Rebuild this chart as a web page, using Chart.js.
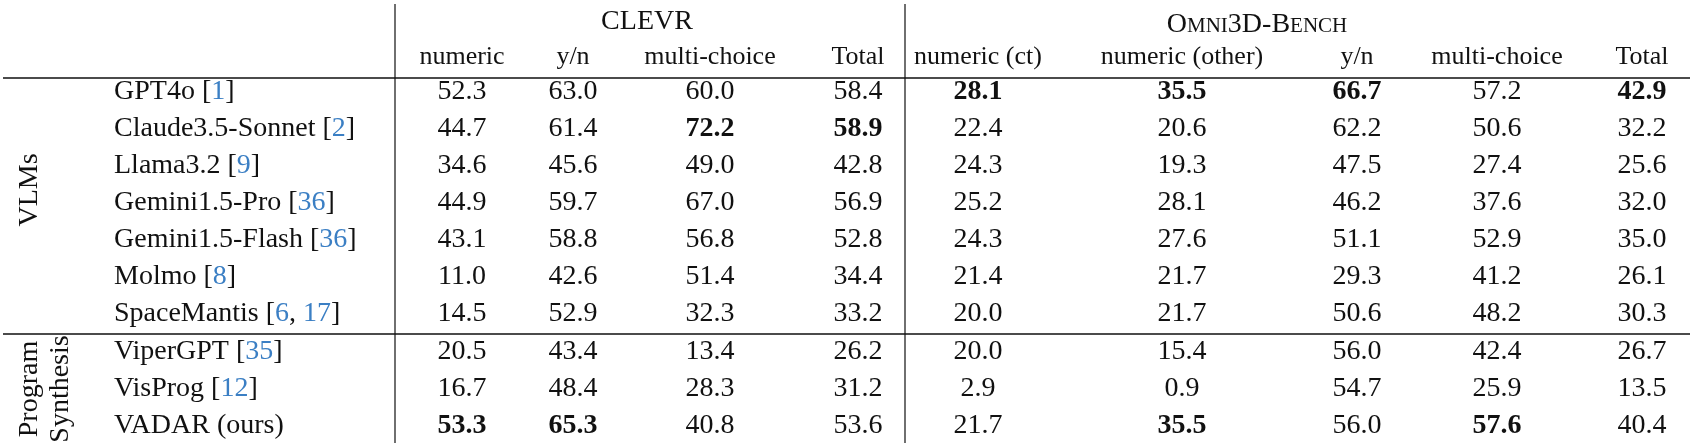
<!DOCTYPE html>
<html>
<head>
<meta charset="utf-8">
<script src="https://cdn.jsdelivr.net/npm/chart.js@4/dist/chart.umd.min.js"></script>
<style>
  html, body { margin: 0; padding: 0; background: #fff; }
</style>
</head>
<body>
<canvas id="table-canvas" width="1693" height="443"></canvas>
<script>
// table data
const models = ['GPT4o', 'Claude3.5-Sonnet', 'Llama3.2', 'Gemini1.5-Pro', 'Gemini1.5-Flash',
  'Molmo', 'SpaceMantis', 'ViperGPT', 'VisProg', 'VADAR (ours)'];
const cites = [['1'], ['2'], ['9'], ['36'], ['36'], ['8'], ['6', '17'], ['35'], ['12'], []];
const columns = ['numeric', 'y/n', 'multi-choice', 'Total',
  'numeric (ct)', 'numeric (other)', 'y/n', 'multi-choice', 'Total'];

const clevrNumeric = [52.3, 44.7, 34.6, 44.9, 43.1, 11.0, 14.5, 20.5, 16.7, 53.3];
const clevrYn = [63.0, 61.4, 45.6, 59.7, 58.8, 42.6, 52.9, 43.4, 48.4, 65.3];
const clevrMulti = [60.0, 72.2, 49.0, 67.0, 56.8, 51.4, 32.3, 13.4, 28.3, 40.8];
const clevrTotal = [58.4, 58.9, 42.8, 56.9, 52.8, 34.4, 33.2, 26.2, 31.2, 53.6];
const omniCount = [28.1, 22.4, 24.3, 25.2, 24.3, 21.4, 20.0, 20.0, 2.9, 21.7];
const omniOther = [35.5, 20.6, 19.3, 28.1, 27.6, 21.7, 21.7, 15.4, 0.9, 35.5];
const omniYn = [66.7, 62.2, 47.5, 46.2, 51.1, 29.3, 50.6, 56.0, 54.7, 56.0];
const omniMulti = [57.2, 50.6, 27.4, 37.6, 52.9, 41.2, 48.2, 42.4, 25.9, 57.6];
const omniTotal = [42.9, 32.2, 25.6, 32.0, 35.0, 26.1, 30.3, 26.7, 13.5, 40.4];

const series = [clevrNumeric, clevrYn, clevrMulti, clevrTotal,
  omniCount, omniOther, omniYn, omniMulti, omniTotal];

// layout (in scale units = pixels of the 1693x443 page)
const colX = [462, 573, 710, 858, 978, 1182, 1357, 1497, 1642];
const rowY = [92, 129, 166, 203, 240, 277, 314, 352, 389, 426];
const FONT = '"Liberation Serif", "DejaVu Serif", serif';
const CITE = '#3b7fc4';

const points = [];
series.forEach((col, j) => col.forEach((v, i) => points.push({ x: colX[j], y: rowY[i], v: v, c: j })));

const tablePlugin = {
  id: 'tableText',
  afterDatasetsDraw(chart) {
    const ctx = chart.ctx;
    const sx = chart.scales.x, sy = chart.scales.y;
    const X = v => sx.getPixelForValue(v), Y = v => sy.getPixelForValue(v);
    ctx.save();
    ctx.fillStyle = '#111';
    ctx.strokeStyle = '#111';

    // rules
    ctx.lineWidth = 1.6;
    ctx.beginPath();
    ctx.moveTo(X(3), Y(78)); ctx.lineTo(X(1690), Y(78));
    ctx.moveTo(X(3), Y(334)); ctx.lineTo(X(1690), Y(334));
    ctx.stroke();
    ctx.lineWidth = 1.2;
    ctx.beginPath();
    ctx.moveTo(X(395), Y(4)); ctx.lineTo(X(395), Y(443));
    ctx.moveTo(X(905), Y(4)); ctx.lineTo(X(905), Y(443));
    ctx.stroke();

    ctx.textBaseline = 'middle';
    ctx.textAlign = 'center';
    ctx.font = '28px ' + FONT;
    ctx.fillText('CLEVR', X(647), Y(22));

    // small caps title
    const parts = [['O', 28], ['MNI', 21], ['3D-B', 28], ['ENCH', 21]];
    let w = 0;
    parts.forEach(p => { ctx.font = p[1] + 'px ' + FONT; w += ctx.measureText(p[0]).width; });
    let px = X(1257) - w / 2;
    ctx.textAlign = 'left';
    ctx.textBaseline = 'alphabetic';
    parts.forEach(p => {
      ctx.font = p[1] + 'px ' + FONT;
      ctx.fillText(p[0], px, Y(32));
      px += ctx.measureText(p[0]).width;
    });

    ctx.textBaseline = 'middle';
    ctx.textAlign = 'center';
    ctx.font = '26px ' + FONT;
    columns.forEach((c, j) => ctx.fillText(c, X(colX[j]), Y(57)));

    // model names with citations
    ctx.font = '28px ' + FONT;
    ctx.textAlign = 'left';
    models.forEach((m, i) => {
      let x = X(114);
      const y = Y(rowY[i]);
      const seg = (t, col) => { ctx.fillStyle = col; ctx.fillText(t, x, y); x += ctx.measureText(t).width; };
      seg(m, '#111');
      if (cites[i].length) {
        seg(' [', '#111');
        cites[i].forEach((c, k) => { if (k) seg(', ', '#111'); seg(c, CITE); });
        seg(']', '#111');
      }
    });

    // values, best per column in bold
    ctx.textAlign = 'center';
    points.forEach(p => {
      const best = Math.max(...series[p.c]);
      ctx.fillStyle = '#111';
      ctx.font = (p.v === best ? 'bold ' : '') + '28px ' + FONT;
      ctx.fillText(p.v.toFixed(1), X(p.x), Y(p.y));
    });

    // group labels
    ctx.font = '28px ' + FONT;
    const rot = (t, x, y) => {
      ctx.save(); ctx.translate(X(x), Y(y)); ctx.rotate(-Math.PI / 2);
      ctx.fillText(t, 0, 0); ctx.restore();
    };
    rot('VLMs', 30, 190);
    rot('Program', 30, 389);
    rot('Synthesis', 61, 389);
    ctx.restore();
  }
};

new Chart(document.getElementById('table-canvas'), {
  type: 'scatter',
  data: { datasets: [{ data: points, pointRadius: 0, pointHoverRadius: 0 }] },
  options: {
    responsive: false,
    animation: false,
    layout: { padding: 0 },
    plugins: { legend: { display: false }, tooltip: { enabled: false } },
    scales: {
      x: { type: 'linear', min: 0, max: 1693, display: false },
      y: { type: 'linear', min: 0, max: 443, reverse: true, display: false }
    }
  },
  plugins: [tablePlugin]
});
</script>
</body>
</html>
